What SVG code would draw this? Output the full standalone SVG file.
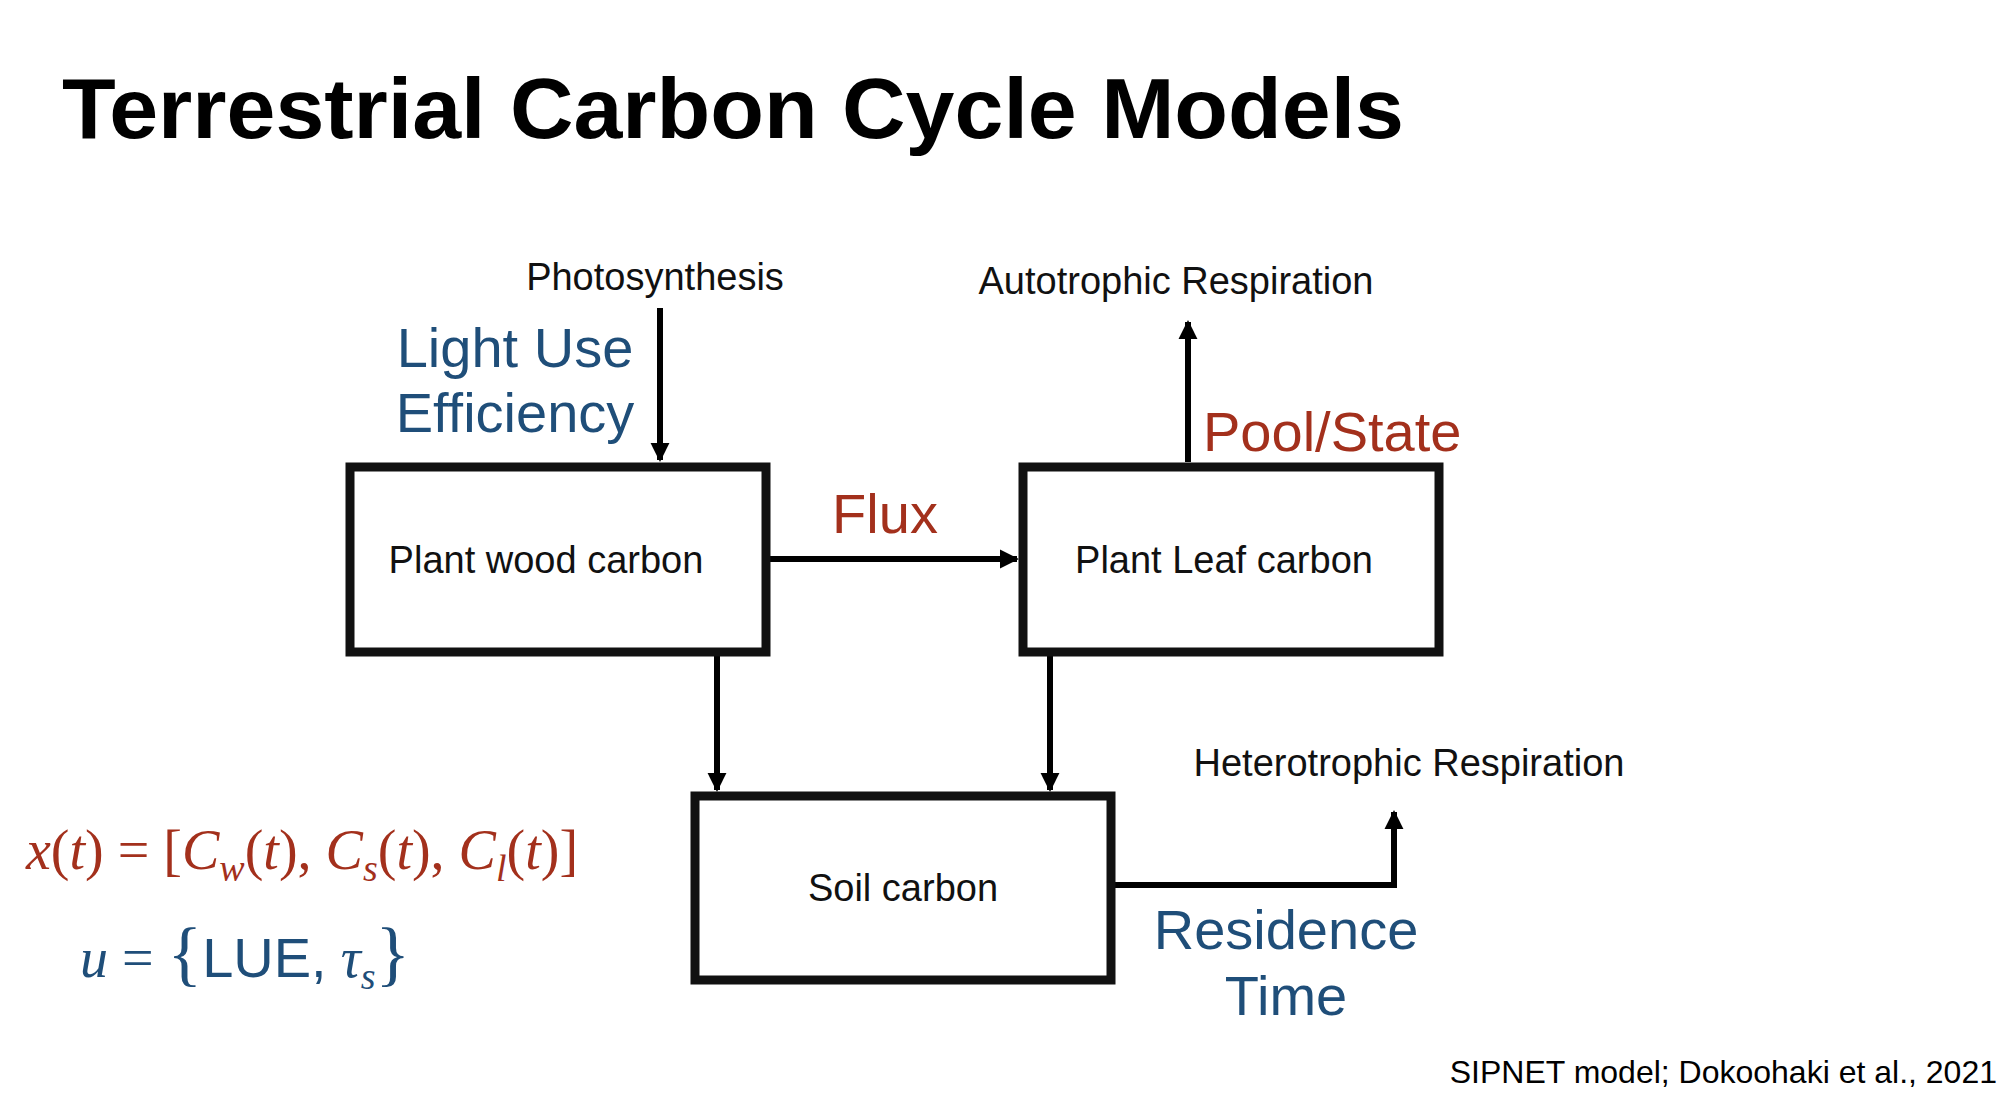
<svg xmlns="http://www.w3.org/2000/svg" width="2010" height="1104" viewBox="0 0 2010 1104">
<defs>
<marker id="ah" viewBox="0 0 10 10" refX="9" refY="5" markerWidth="3.2" markerHeight="4.2" orient="auto" markerUnits="strokeWidth"><path d="M0,0 L10,5 L0,10 z" fill="#000"/></marker>
<style>
.box{fill:#fff;stroke:#111;stroke-width:9}
.c{fill:none;stroke:#000;stroke-width:6;marker-end:url(#ah)}
.t{font-family:"Liberation Sans",Arial,sans-serif;font-size:38px;fill:#111;text-anchor:middle}
.b{font-family:"Liberation Sans",Arial,sans-serif;font-size:56px;fill:#1f4e79}
.r{font-family:"Liberation Sans",Arial,sans-serif;font-size:56px;fill:#a3301c}
.m{font-family:"Liberation Serif","Times New Roman",serif;font-size:56px}
</style>
</defs>
<rect width="2010" height="1104" fill="#fff"/>
<text x="62" y="138" font-family="Liberation Sans,Arial,sans-serif" font-weight="bold" font-size="86" textLength="1342" lengthAdjust="spacingAndGlyphs" fill="#000">Terrestrial Carbon Cycle Models</text>
<g id="connectors">
<path class="c" d="M660,308 V460"/>
<path class="c" d="M1188,462 V322"/>
<path class="c" d="M767,559 H1017"/>
<path class="c" d="M717,654 V790"/>
<path class="c" d="M1050,654 V790"/>
<path class="c" d="M1113,885 H1394 V812"/>
</g>
<g id="wood"><rect class="box" x="350" y="467" width="416" height="185"/><text class="t" x="546" y="573">Plant wood carbon</text></g>
<g id="leaf"><rect class="box" x="1023" y="467" width="416" height="185"/><text class="t" x="1224" y="573">Plant Leaf carbon</text></g>
<g id="soil"><rect class="box" x="695" y="796" width="416" height="184"/><text class="t" x="903" y="901">Soil carbon</text></g>
<g id="labels">
<text class="t" x="655" y="290">Photosynthesis</text>
<text class="t" x="1176" y="294">Autotrophic Respiration</text>
<text class="t" x="1409" y="776">Heterotrophic Respiration</text>
<text class="b" x="515" y="367" text-anchor="middle">Light Use</text>
<text class="b" x="515" y="432" text-anchor="middle">Efficiency</text>
<text class="r" x="1203" y="451">Pool/State</text>
<text class="r" x="885" y="533" text-anchor="middle">Flux</text>
<text class="b" x="1286" y="949" text-anchor="middle">Residence</text>
<text class="b" x="1286" y="1015" text-anchor="middle">Time</text>
<text class="m" x="26" y="869" fill="#a3301c"><tspan font-style="italic">x</tspan>(<tspan font-style="italic">t</tspan>) = [<tspan font-style="italic">C</tspan><tspan font-style="italic" font-size="38" dy="12">w</tspan><tspan dy="-12">(</tspan><tspan font-style="italic">t</tspan>), <tspan font-style="italic">C</tspan><tspan font-style="italic" font-size="38" dy="12">s</tspan><tspan dy="-12">(</tspan><tspan font-style="italic">t</tspan>), <tspan font-style="italic">C</tspan><tspan font-style="italic" font-size="38" dy="12">l</tspan><tspan dy="-12">(</tspan><tspan font-style="italic">t</tspan>)]</text>
<text class="m" x="80" y="977" fill="#1f4e79"><tspan font-style="italic">u</tspan> = <tspan font-size="72">{</tspan><tspan font-family="Liberation Sans,Arial,sans-serif">LUE,</tspan> <tspan font-style="italic">τ</tspan><tspan font-style="italic" font-size="38" dy="12">s</tspan><tspan font-size="72" dy="-12">}</tspan></text>
<text x="1997" y="1083" font-family="Liberation Sans,Arial,sans-serif" font-size="32" fill="#000" text-anchor="end">SIPNET model; Dokoohaki et al., 2021</text>
</g>
</svg>
